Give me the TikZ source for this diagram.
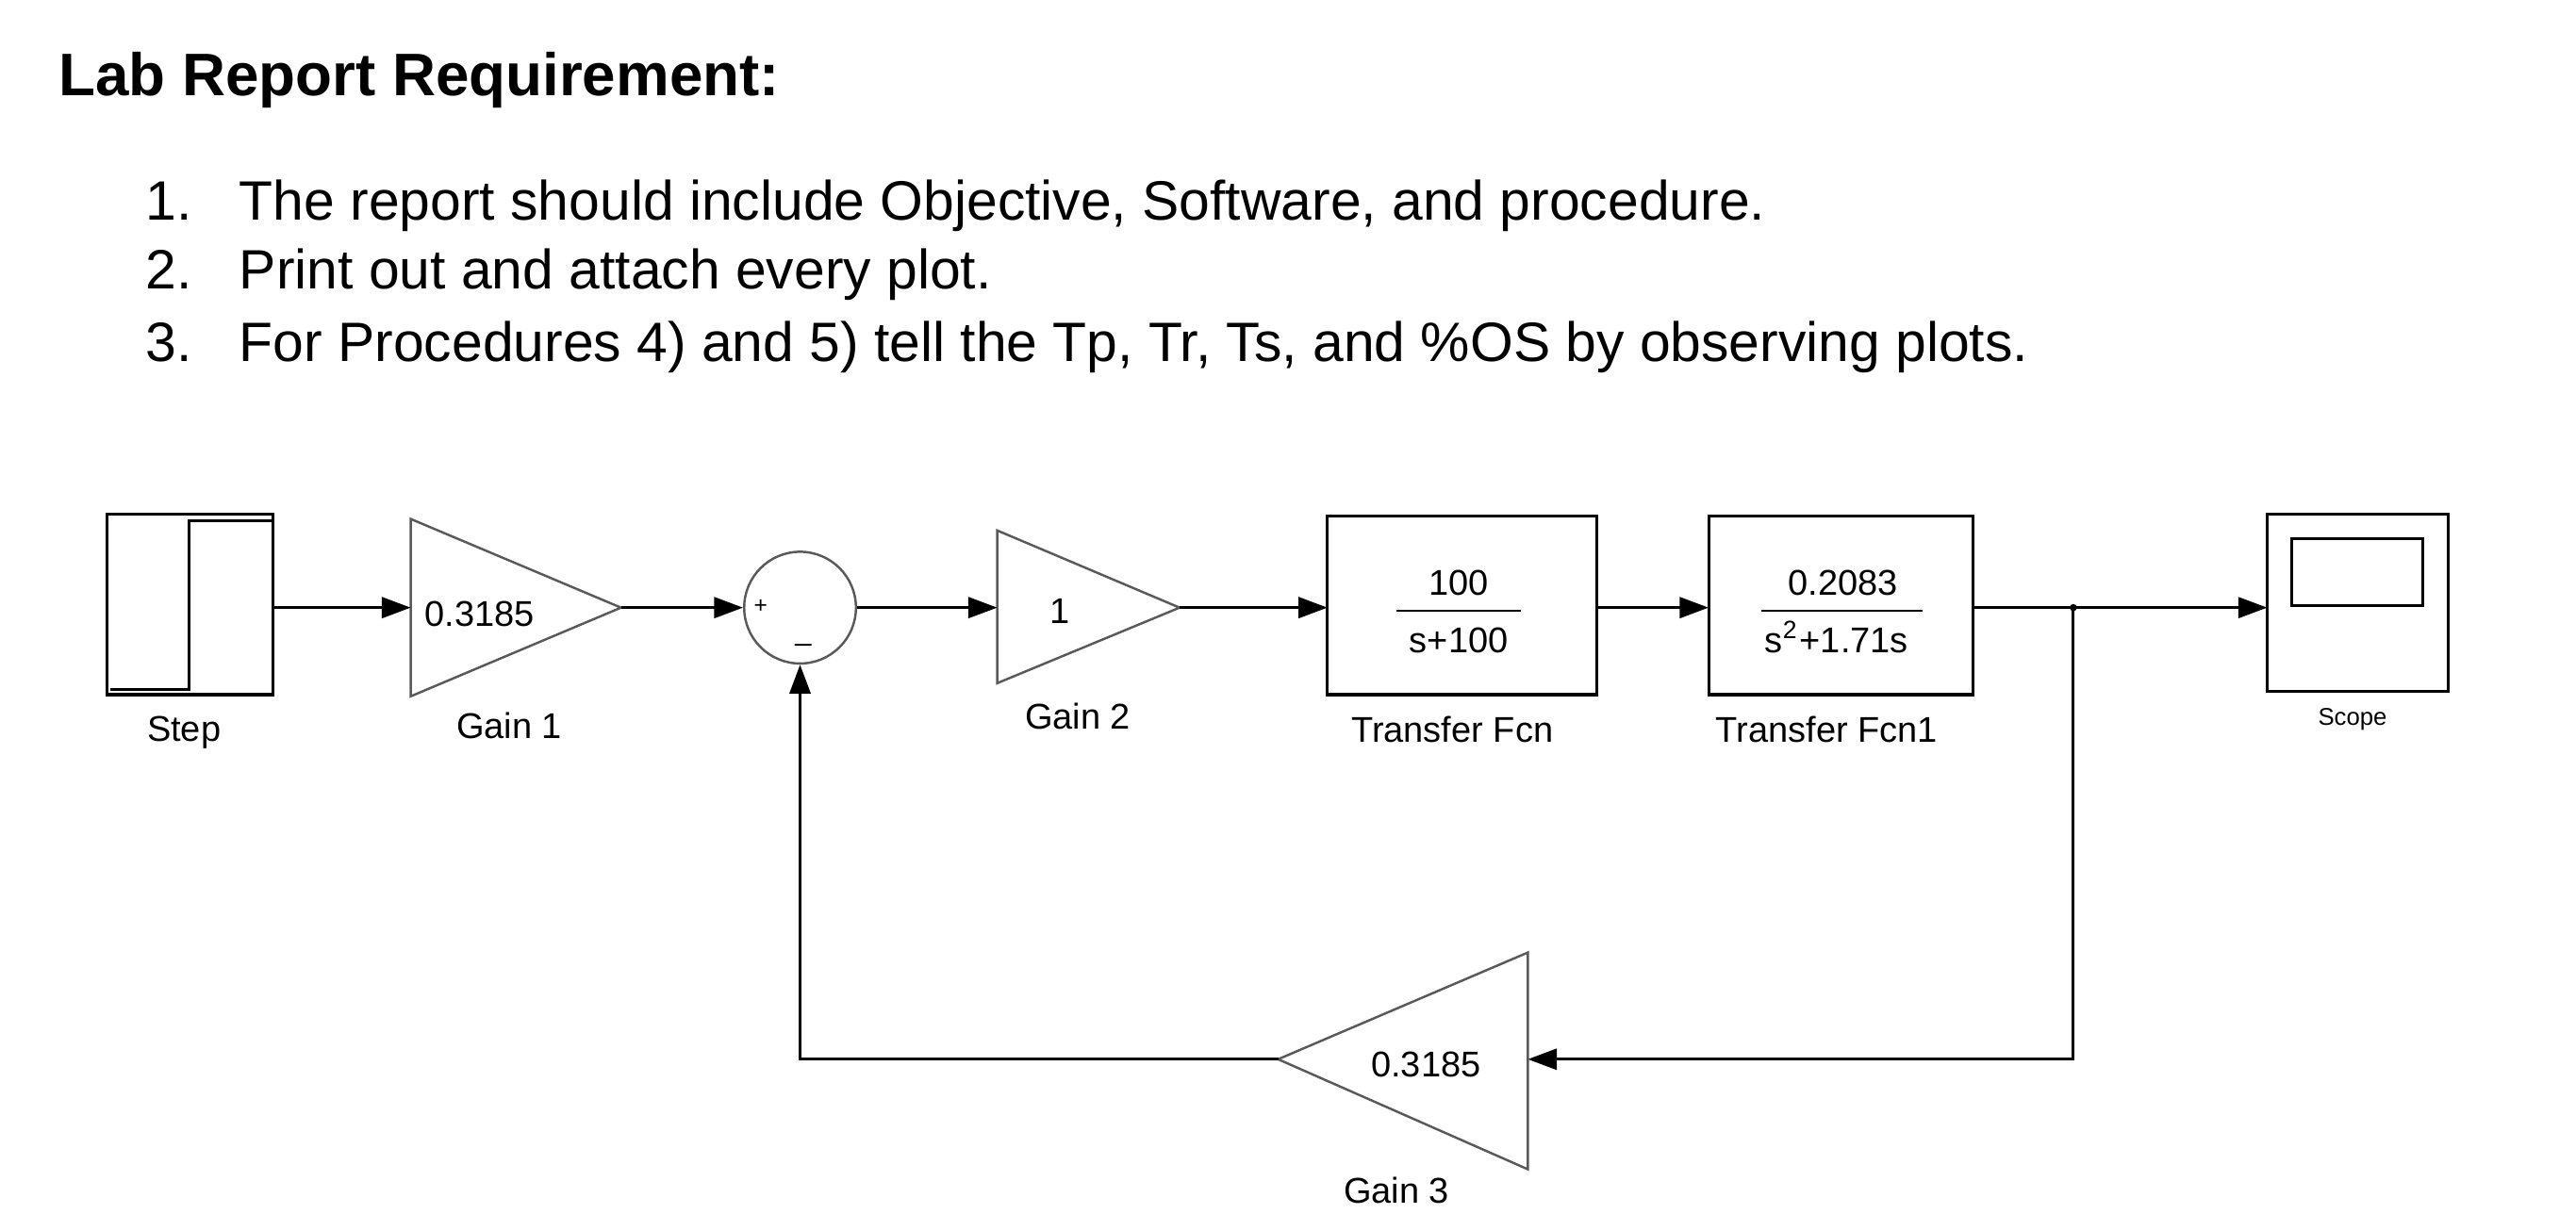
\documentclass[tikz,border=0pt]{standalone}
\usepackage{fontspec}
\setmainfont{Liberation Sans}
\usetikzlibrary{arrows.meta}
\begin{document}
\begin{tikzpicture}[x=0.01cm,y=-0.01cm,
  blk/.style={draw,line width=0.5pt},
  thin/.style={draw,line width=0.4pt,gray!70!black},
  con/.style={draw,line width=0.5pt,-{Triangle[length=5pt,width=3.6pt]}},
  lbl/.style={font=\fontsize{6.2pt}{7pt}\selectfont,inner sep=0},
  val/.style={font=\fontsize{6.2pt}{7pt}\selectfont,inner sep=0},
  hd/.style={font=\fontsize{9.6pt}{11pt}\selectfont,anchor=base west,inner sep=0}]
\useasboundingbox (0,0) rectangle (1568,739);
\node[hd,font=\fontsize{10.4pt}{12pt}\selectfont\bfseries] (h) at (35,58) {Lab Report Requirement:};
\node[hd] (n1) at (88,134) {1.};
\node[hd] (t1) at (145,134) {The report should include Objective, Software, and procedure.};
\node[hd] (n2) at (88,176) {2.};
\node[hd] (t2) at (145,176) {Print out and attach every plot.};
\node[hd] (n3) at (88,220) {3.};
\node[hd] (t3) at (145,220) {For Procedures 4) and 5) tell the Tp, Tr, Ts, and \%OS by observing plots.};
% Step
\draw[blk] (65,313) rectangle (166,423);
\coordinate (step) at (166,370);
\draw[line width=0.5pt] (67,420) -- (115,420) -- (115,317) -- (166,317);
\node[lbl] (stepl) at (112,446) {Step};
% Gain1
\draw[thin] (250,316) -- (378,370) -- (250,424) -- cycle;
\coordinate (g1in) at (250,370); \coordinate (g1out) at (378,370);
\node[val] (g1v) at (292,374) {0.3185};
\node[lbl] (g1l) at (310,442) {Gain 1};
% Sum
\node[thin,circle,minimum size=0.68cm,inner sep=0] (sum) at (487,370) {};
\node[lbl,font=\fontsize{4pt}{4pt}\selectfont] (plus) at (463,369) {+};
\node[lbl,font=\fontsize{5pt}{5pt}\selectfont] (minus) at (489,392) {\_};
% Gain2
\draw[thin] (607,323) -- (718,370) -- (607,416) -- cycle;
\coordinate (g2in) at (607,370); \coordinate (g2out) at (718,370);
\node[val] (g2v) at (645,372) {1};
\node[lbl] (g2l) at (656,436) {Gain 2};
% TF
\draw[blk] (808,314) rectangle (972,423);
\coordinate (tfw) at (808,370); \coordinate (tfe) at (972,370);
\node[val] (tfn) at (888,355) {100};
\draw[line width=0.4pt] (850,372) -- (926,372);
\node[val] (tfd) at (888,390) {s+100};
\node[lbl] (tfl) at (884,444) {Transfer Fcn};
% TF1
\draw[blk] (1040,314) rectangle (1201,423);
\coordinate (tf1w) at (1040,370); \coordinate (tf1e) at (1201,370);
\node[val] (tf1n) at (1122,355) {0.2083};
\draw[line width=0.4pt] (1072,372) -- (1170,372);
\node[val] (tf1d) at (1118,388) {s$^{\mathrm 2}$+1.71s};
\node[lbl] (tf1l) at (1112,444) {Transfer Fcn1};
% Scope
\draw[blk] (1380,313) rectangle (1490,421);
\coordinate (scw) at (1380,370);
\draw[line width=0.5pt] (1395,328) rectangle (1475,369);
\node[lbl,font=\fontsize{4.2pt}{5pt}\selectfont] (scl) at (1432,438) {Scope};
% Gain3
\draw[thin] (930,580) -- (778,645) -- (930,712) -- cycle;
\coordinate (g3in) at (930,645); \coordinate (g3out) at (778,645);
\node[val] (g3v) at (868,648) {0.3185};
\node[lbl] (g3l) at (850,725) {Gain 3};
% connectors
\coordinate (br) at (1262,370);
\draw[con] (step) -- (g1in);
\draw[con] (g1out) -- (sum.west);
\draw[con] (sum.east) -- (g2in);
\draw[con] (g2out) -- (tfw);
\draw[con] (tfe) -- (tf1w);
\draw[con] (tf1e) -- (scw);
\fill (br) circle (2.2);
\draw[con] (br) |- (g3in);
\draw[con] (g3out) -| (sum.south);
\end{tikzpicture}
\end{document}
